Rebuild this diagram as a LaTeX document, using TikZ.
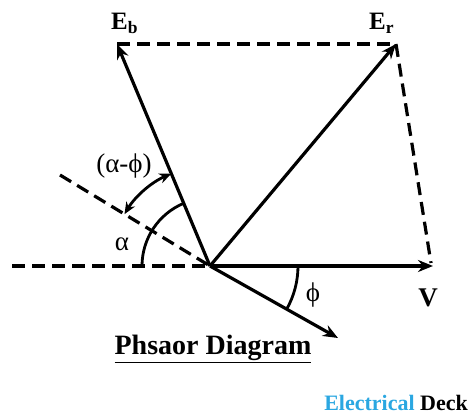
\documentclass[tikz,border=0pt]{standalone}
\usepackage{fontspec}
\setmainfont{Liberation Serif}
\usetikzlibrary{arrows.meta}
\definecolor{edblue}{HTML}{2AA7E1}
\tikzset{
  phasor/.style={line width=3.2pt, -{Stealth[length=15pt,width=12pt]}},
  guide/.style={line width=3.2pt, dash pattern=on 13pt off 7pt},
  anglearc/.style={line width=2.8pt},
  lbl/.style={inner sep=0pt, font=\bfseries\fontsize{25}{27}\selectfont},
  glbl/.style={inner sep=0pt, font=\fontsize{27}{29}\selectfont},
}
\begin{document}
\begin{tikzpicture}[x=1pt,y=1pt]
\useasboundingbox (0,0) rectangle (474,415);
\coordinate (O) at (210,149);
\coordinate (Eb) at (117,371);
\coordinate (Er) at (396,371);
\coordinate (V) at (433,149);
\coordinate (I) at (338,77);
\coordinate (Vd) at (431,152);
\coordinate (L) at (12,149);
\coordinate (D) at (60,240);
% guide lines
\draw[guide] (Eb) -- (Er);
\draw[guide] (Er) -- (Vd);
\draw[guide] (L) -- (O);
\draw[guide] (D) -- (O);
% phasors
\draw[phasor] (O) -- (Eb);
\draw[phasor] (O) -- (Er);
\draw[phasor] (O) -- (V);
\draw[phasor] (O) -- (I);
% angle arcs
\draw[anglearc] (O) ++(180:68) arc[start angle=180, end angle=112.7, radius=68];
\draw[anglearc, {Stealth[length=12pt,width=10pt]}-{Stealth[length=12pt,width=10pt]}] (O) ++(148.8:100) arc[start angle=148.8, end angle=112.7, radius=100];
\draw[anglearc] (O) ++(0:88) arc[start angle=0, end angle=-29.4, radius=88];
% labels
\node[lbl, anchor=base west] (lEb) at (111,385) {E\textsubscript{b}};
\node[lbl, anchor=base west] (lEr) at (369,385) {E\textsubscript{r}};
\node[lbl, anchor=base, font=\bfseries\fontsize{27}{29}\selectfont] (lV) at (428,108) {V};
\node[glbl] (lphi) at (313,120) {ϕ};
\node[glbl] (lalpha) at (122,171) {α};
\node[glbl] (lap) at (124,249) {(α-ϕ)};
\node[inner sep=0pt, anchor=base, font=\bfseries\fontsize{28}{30}\selectfont] (title) at (213,60) {\underline{Phsaor Diagram}};
\node[inner sep=0pt, anchor=base east, font=\bfseries\fontsize{22}{24}\selectfont] (brand) at (468,5) {\textcolor{edblue}{Electrical} Deck};
\end{tikzpicture}
\end{document}
